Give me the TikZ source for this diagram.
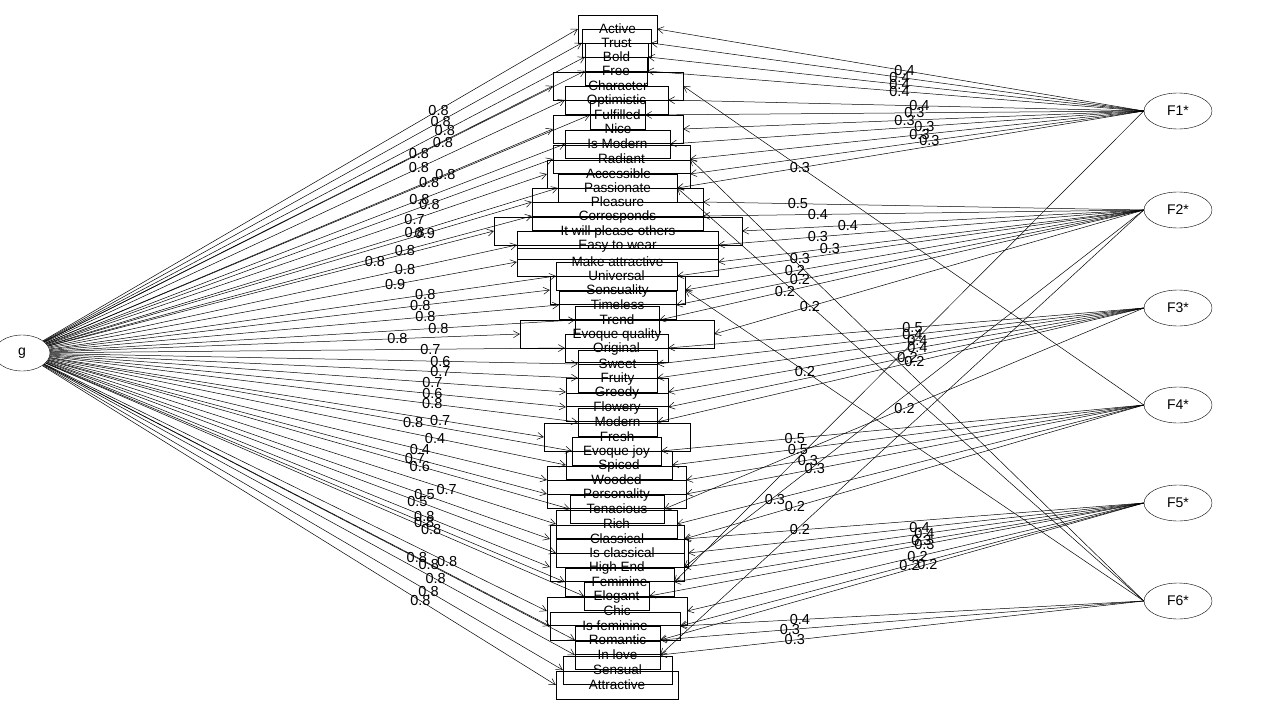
\documentclass[tikz,border=0pt]{standalone}
\usepackage{fontspec}
\setmainfont{Liberation Sans}
\usetikzlibrary{arrows.meta,shapes.geometric}
\begin{document}
\begin{tikzpicture}[x=1pt,y=-1pt,
  box/.style={draw,rectangle,inner sep=0pt,minimum height=28pt,font=\fontsize{13.5}{13.5}\selectfont,text depth=0pt},
  lat/.style={draw,ellipse,minimum width=68pt,minimum height=36pt,inner sep=0pt,font=\fontsize{14}{14}\selectfont},
  arr/.style={-{Straight Barb[length=6pt,width=7pt]},line width=0.5pt},
  lbl/.style={font=\fontsize{14.5}{14.5}\selectfont,inner sep=0pt}]
\useasboundingbox (0,0) rectangle (1280,720);
\node[lat,minimum width=56pt] (g) at (22,353) {g};
\foreach \k/\y in {1/111,2/210,3/308,4/405,5/503,6/601}
  \node[lat] (F\k) at (1178,\y) {F\k*};
\foreach \i/\y/\l/\r/\t/\lab/\lx in {
1/29/578/657/Active/0.8/440, 2/43/582/651/Trust/0.8/442, 3/57/585/648/Bold/0.8/446,
4/71/585/647/Free/0.8/444, 5/86/553/683/Character/0.8/420, 6/100/565/668/Optimistic/0.8/420,
7/115/590/645/Fulfilled/0.8/430, 8/129/553/683/Nice/0.8/446, 9/144/565/670/Is Modern/0.8/420,
10/159/553/690/Radiant/0.8/430, 11/174/547/690/Accessible/0.7/415, 12/188/558/677/Passionate/0.8/415,
13/202/532/703/Pleasure/0.9/425, 14/216/532/703/Corresponds/0.8/405, 15/231/494/742/It will please others/0.8/375,
16/245/517/718/Easy to wear/0.8/405, 17/262/517/718/Make attractive/0.9/395, 18/276/556/677/Universal/0.8/425,
19/290/550/685/Sensuality/0.8/420, 20/305/559/676/Timeless/0.8/425, 21/320/575/659/Trend/0.8/438,
22/334/520/714/Evoque quality/0.8/397, 23/348/565/668/Original/0.7/430, 24/364/578/657/Sweet/0.6/440,
25/378/578/657/Fruity/0.7/440, 26/392/566/668/Greedy/0.7/432, 27/407/566/668/Flowery/0.6/432,
28/422/578/657/Modern/0.8/432, 29/437/544/690/Fresh/0.7/440, 30/451/572/661/Evoque joy/0.8/413,
31/465/566/672/Spiced/0.4/435, 32/480/547/686/Wooded/0.4/420, 33/494/547/686/Personality/0.7/415,
34/509/570/664/Tenacious/0.6/420, 35/524/556/677/Rich/0.7/447, 36/539/550/684/Classical/0.5/425,
37/553/556/688/Is classical/0.5/418, 38/567/550/684/High End/0.8/425, 39/582/565/674/Feminine/0.8/425,
40/596/584/649/Elegant/0.8/432, 41/611/547/687/Chic/0.8/448, 42/626/550/680/Is feminine/0.8/418,
43/640/575/660/Romantic/0.8/430, 44/655/575/660/In love/0.8/437, 45/670/563/672/Sensual/0.8/430,
46/685/556/678/Attractive/0.8/422}{
  \node[box,minimum width={\r-\l}] (n\i) at ({(\l+\r)/2},\y) {\t};
  \expandafter\xdef\csname rr\i\endcsname{\r}
  \draw[arr] (g) -- (n\i.west) node[lbl,pos={(\lx-48)/(\l-48)}] {\lab};
}
\foreach \f/\i/\lab/\lx in {
1/1/0.4/905, 1/2/0.4/900, 1/3/0.4/900, 1/4/0.4/900, 1/6/0.4/920, 1/7/0.3/915, 1/8/0.3/905,
1/9/0.3/925, 1/10/0.3/920, 1/11/0.3/930, 1/12/0.3/800,
2/13/0.5/798, 2/14/0.4/818, 2/15/0.4/848, 2/16/0.3/818, 2/17/0.3/830, 2/18/0.3/800,
2/19/0.2/795, 2/20/0.2/800, 2/21/0.2/785, 2/22/0.2/810,
3/23/0.5/913, 3/24/0.4/913, 3/25/0.4/918, 3/26/0.4/918, 3/27/0.2/908, 3/28/0.2/915, 3/34/0.2/905,
4/30/0.5/795, 4/31/0.5/798, 4/32/0.3/808, 4/33/0.3/815, 4/35/0.3/775, 4/36/0.2/795,
5/36/0.2/800, 5/37/0.4/920, 5/38/0.4/925, 5/39/0.3/922, 5/40/0.3/925, 5/41/0.2/918, 5/42/0.2/910, 5/43/0.2/928,
6/42/0.4/800, 6/43/0.3/790, 6/44/0.3/795, 6/19/0.2/805}{
  \draw[arr] (F\f.west) -- (n\i.east) node[lbl,pos={(1145-\lx)/(1145-\csname rr\i\endcsname)}] {\lab};
}
\foreach \f/\i in {4/5, 1/39, 2/38, 2/44, 6/10, 6/12}
  \draw[arr] (F\f.west) -- (n\i.east);
\end{tikzpicture}
\end{document}
